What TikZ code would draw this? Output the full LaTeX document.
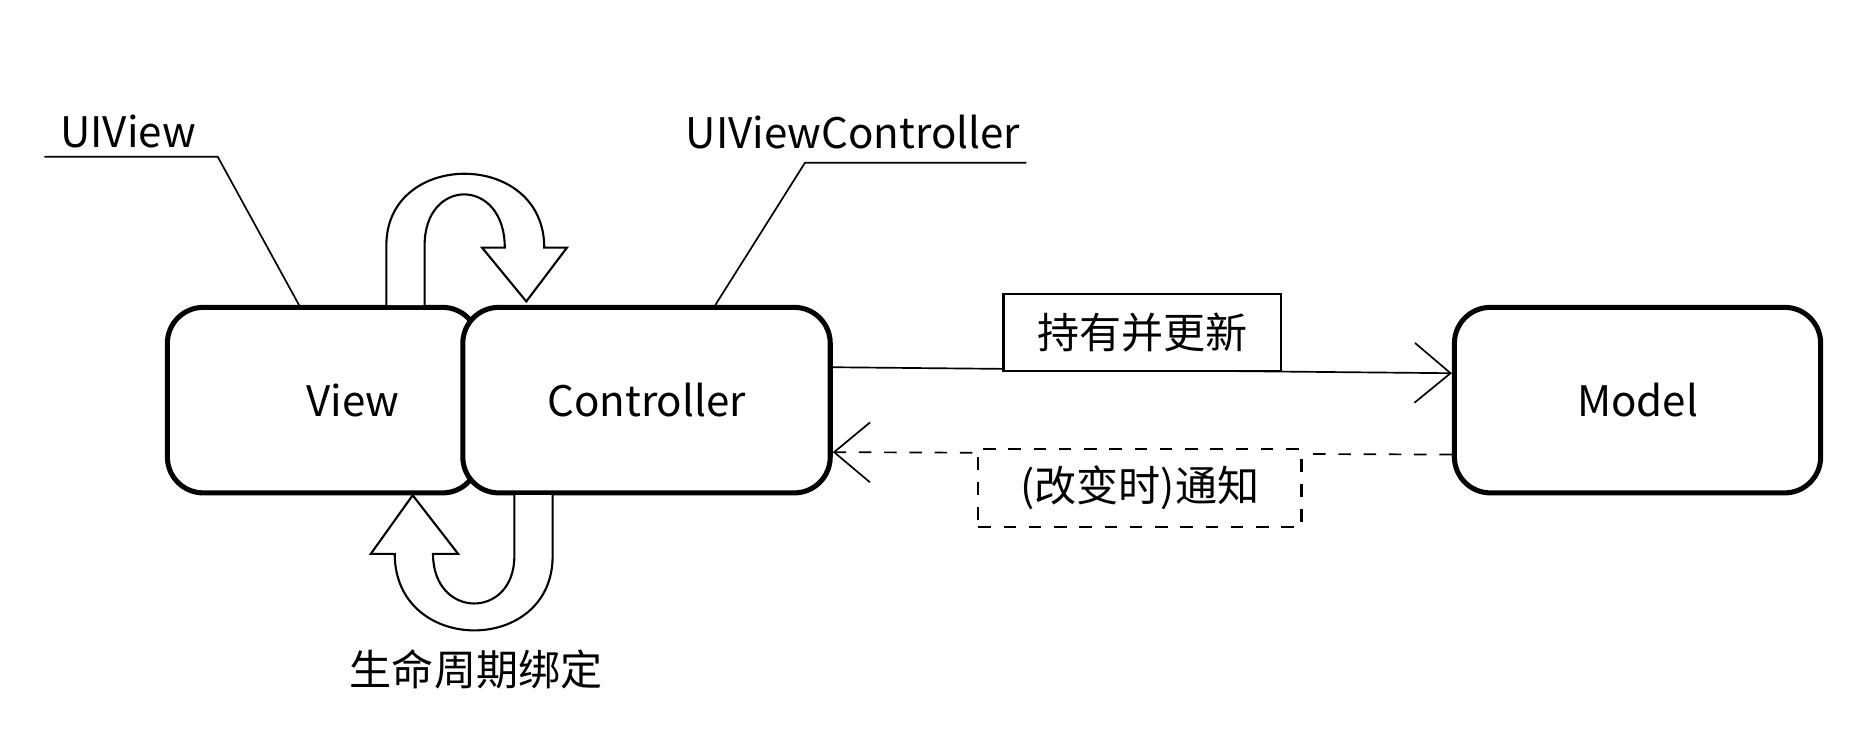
\documentclass[tikz,border=0pt]{standalone}
\usepackage{fontspec}
\setmainfont{Noto Sans CJK SC}
\usetikzlibrary{positioning, arrows.meta}

\tikzset{
  box/.style={draw, line width=1.2pt, rounded corners=3mm, fill=white, minimum width=2.6cm, minimum height=1.55cm, font=\fontsize{10}{12}\selectfont},
  tag/.style={draw, line width=0.5pt, fill=white, inner xsep=8pt, minimum height=0.64cm, font=\fontsize{10}{12}\selectfont},
  lbl/.style={font=\fontsize{10}{12}\selectfont, inner sep=1pt},
  loop/.style={draw, line width=0.5pt, fill=white},
}

\begin{document}
\begin{tikzpicture}[x=0.01cm, y=-0.01cm]
  \useasboundingbox (0,0) rectangle (1560,629);

  % Rahmen
  \node[box, minimum width=2.6cm, text width=1.6cm, align=center] (view) at (270,334.5) {\hspace*{0.5cm}View};
  \node[box, minimum width=3.07cm] (ctrl) at (540.5,334.5) {Controller};
  \node[box, minimum width=3.06cm] (model) at (1369,334.5) {Model};

  % Beschriftungen oben
  \node[lbl] (uiview) at (107,110) {UIView};
  \node[lbl] (uivc) at (713,110) {UIViewController};
  \coordinate (uiA) at (37,131);
  \coordinate (uiB) at (182,131);
  \coordinate (uiC) at (250,255);
  \coordinate (vcA) at (858,136);
  \coordinate (vcB) at (673,136);
  \coordinate (vcC) at (598,255);
  \draw (uiA) -- (uiB) -- (uiC);
  \draw (vcA) -- (vcB) -- (vcC);

  % Lebenszyklus-Pfeile
  \path[loop] (323,255) -- (323,205) .. controls (323,125) and (455,125) .. (455,207)
    -- (474,207) -- (440,252) -- (403,207) -- (422,207)
    .. controls (422,148) and (355,148) .. (355,205) -- (355,255);
  \path[loop] (462,414) -- (462,465) .. controls (462,548) and (330,548) .. (330,463)
    -- (310,463) -- (345,414) -- (383,463) -- (362,463)
    .. controls (362,518) and (430,518) .. (430,465) -- (430,414);
  \node[lbl] (life) at (398,560) {生命周期绑定};

  % Verbindungen
  \draw[-{Straight Barb[length=3mm, width=5mm]}] (ctrl.east |- 0,307) -- (model.west |- 0,312);
  \node[tag] (hold) at (955,278) {持有并更新};
  \draw[dashed, -{Straight Barb[length=3mm, width=5mm]}] (model.west |- 0,380) -- (ctrl.east |- 0,378);
  \node[tag, dashed, minimum height=0.65cm, minimum width=2.7cm] (notify) at (953,408) {(改变时)通知};
\end{tikzpicture}
\end{document}
